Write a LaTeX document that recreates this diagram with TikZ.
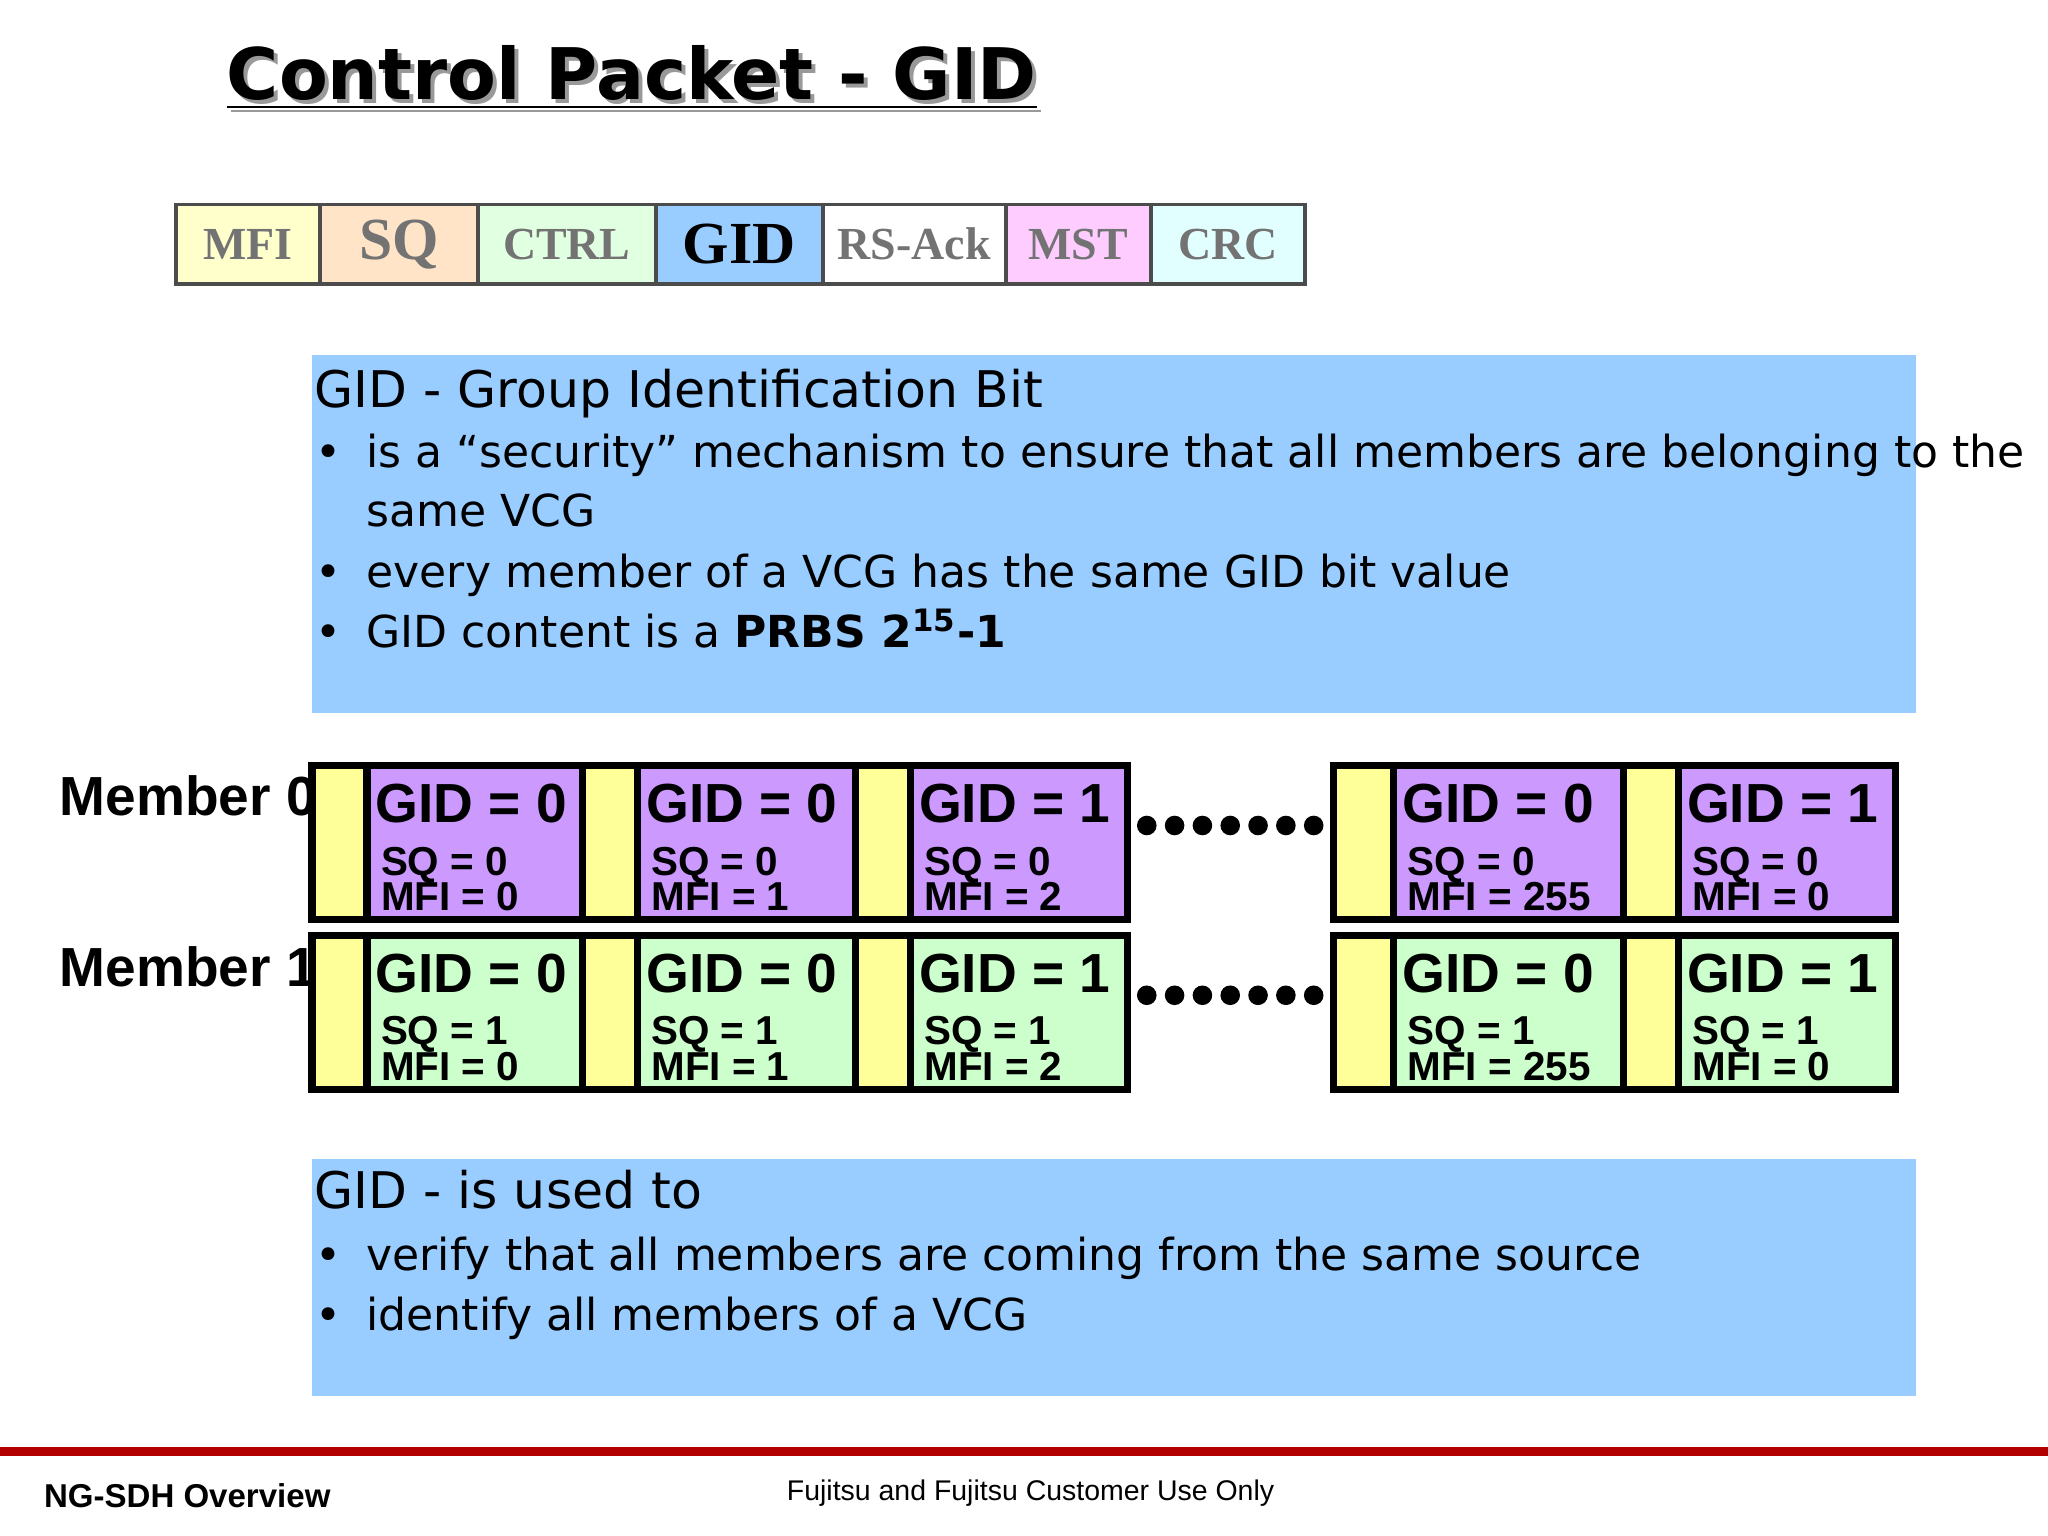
\documentclass[tikz,border=0pt]{standalone}
\usepackage{fontspec}
\setmainfont{DejaVu Sans}
\newfontfamily\arial{Liberation Sans}
\newfontfamily\tms{Liberation Serif}
\begin{document}
\begin{tikzpicture}[x=0.1mm,y=-0.1mm,
  hdr/.style={draw=black!70,line width=0.8pt,minimum height=61*0.1mm,inner sep=0pt,font=\tms\bfseries\fontsize{10}{10}\selectfont,text=black!55},
  bx/.style={fill=blue!40!cyan!25!white},
  body/.style={anchor=base west,inner sep=0pt,font=\fontsize{9.6}{12}\selectfont},
  cell/.style={draw=black,line width=1.6pt},
  big/.style={anchor=base west,inner sep=0pt,font=\arial\bfseries\fontsize{12}{12}\selectfont},
  sm/.style={anchor=base west,inner sep=0pt,font=\arial\bfseries\fontsize{8.8}{8.8}\selectfont},
  dot/.style={circle,fill=black,inner sep=0pt,minimum size=15*0.1mm}]
\useasboundingbox (0,0) rectangle (1568,1176);
\definecolor{lb}{HTML}{99CCFF}
\definecolor{pu}{HTML}{CC99FF}
\definecolor{gr}{HTML}{CCFFCC}
\definecolor{ye}{HTML}{FFFF99}
% title
\node[anchor=base west,inner sep=0pt,text=black!40,font=\bfseries\fontsize{15.5}{16}\selectfont] at (176,79) {\underline{Control Packet - GID}};
\node[anchor=base west,inner sep=0pt,font=\bfseries\fontsize{15.5}{16}\selectfont] (title) at (173,76) {\underline{Control Packet - GID}};
% header
\node[hdr,fill={rgb,255:red,255;green,255;blue,204},minimum width=110*0.1mm] (h1) at (190,187) {MFI};
\node[hdr,fill={rgb,255:red,255;green,228;blue,200},minimum width=121*0.1mm,font=\tms\bfseries\fontsize{13}{13}\selectfont] (h2) at (305.5,187) {SQ};
\node[hdr,fill={rgb,255:red,225;green,255;blue,225},minimum width=136*0.1mm] (h3) at (434,187) {CTRL};
\node[hdr,fill=lb,minimum width=128*0.1mm,text=black,font=\tms\bfseries\fontsize{13}{13}\selectfont] (h4) at (566,187) {GID};
\node[hdr,fill=white,minimum width=140*0.1mm] (h5) at (700,187) {RS-Ack};
\node[hdr,fill={rgb,255:red,255;green,204;blue,255},minimum width=111*0.1mm] (h6) at (825.5,187) {MST};
\node[hdr,fill={rgb,255:red,225;green,255;blue,255},minimum width=118*0.1mm] (h7) at (940,187) {CRC};
% box 1
\fill[lb] (239,272) rectangle (1467,546);
\node[body,font=\fontsize{11}{12}\selectfont] (t1) at (240,312) {GID - Group Identification Bit};
\foreach \y/\t in {358/{is a “security” mechanism to ensure that all members are belonging to the},403/{same VCG},450/{every member of a VCG has the same GID bit value},496/{GID content is a \textbf{PRBS 2\textsuperscript{15}-1}}}{
  \node[body] at (280,\y) {\t};}
\foreach \y in {358,450,496}{\node[body] at (241,\y) {•};}
% members
\node[anchor=base west,inner sep=0pt,font=\arial\bfseries\fontsize{12}{12}\selectfont] (m0) at (45,624) {Member 0};
\node[anchor=base west,inner sep=0pt,font=\arial\bfseries\fontsize{12}{12}\selectfont] (m1) at (45,755) {Member 1};
\foreach \r/\y/\c/\q in {0/586/pu/0,1/716/gr/1}{
  \foreach \a/\b/\w/\g/\m/\dx in {239/446/281/0/0/0,446/655/488/0/1/0,655/863/697/1/2/0,1021/1243/1067/0/255/0,1243/1451/1285/1/0/0}{
    \fill[ye] (\a,\y) rectangle (\w,\y+118);
    \fill[\c] (\w,\y) rectangle (\b,\y+118);
    \draw[cell] (\a,\y) rectangle (\b,\y+118) (\w,\y) -- (\w,\y+118);
    \node[big] at (\w+6,\y+44) {GID = \g};
    \node[sm] at (\w+10,\y+84) {SQ = \q};
    \node[sm] at (\w+10,\y+111) {MFI = \m};
  }
  \foreach \i in {0,...,6}{\node[dot] at (878+\i*21.3,\y+46) {};}
}
% box 2
\fill[lb] (239,887) rectangle (1467,1069);
\node[body,font=\fontsize{11}{12}\selectfont] (t2) at (240,925) {GID - is used to};
\node[body] at (280,973) {verify that all members are coming from the same source};
\node[body] at (280,1019) {identify all members of a VCG};
\node[body] at (241,973) {•};
\node[body] at (241,1019) {•};
% footer
\fill[red!70!black] (0,1108) rectangle (1568,1115);
\node[anchor=base west,inner sep=0pt,font=\arial\bfseries\fontsize{7.2}{8}\selectfont] (f1) at (33,1154) {NG-SDH Overview};
\node[anchor=base,inner sep=0pt,font=\arial\fontsize{6.2}{8}\selectfont] (f2) at (789,1149) {Fujitsu and Fujitsu Customer Use Only};
\end{tikzpicture}
\end{document}
